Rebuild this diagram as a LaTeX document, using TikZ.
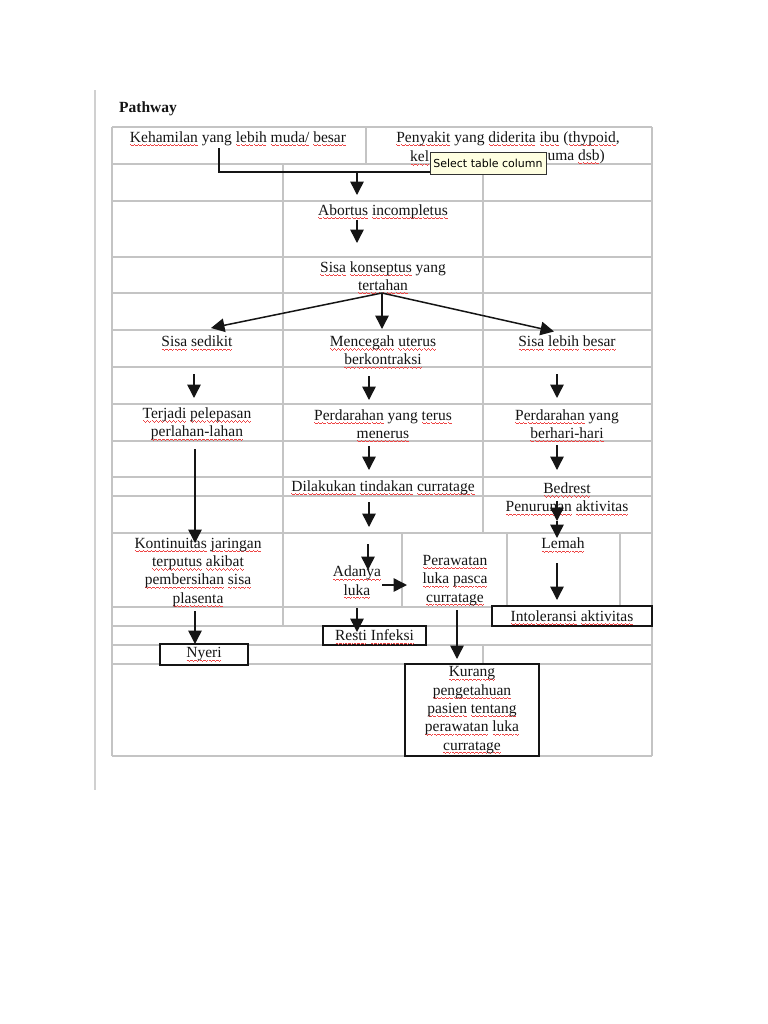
\documentclass[tikz,border=0pt]{standalone}
\usepackage{fontspec}
\setmainfont{Liberation Serif}
\newfontfamily\tipfont{DejaVu Sans}
\usetikzlibrary{arrows.meta}
\definecolor{gridgray}{HTML}{C4C4C4}
\definecolor{pagegray}{HTML}{D0D0D0}
\definecolor{ink}{HTML}{151515}
\definecolor{wavered}{HTML}{EE4444}
\definecolor{tipfill}{HTML}{FFFFE1}
\newsavebox\sqbox
\newcommand\waveunit{\rule[-2.4bp]{1bp}{0.6bp}\rule[-3.0bp]{1bp}{0.6bp}\rule[-3.6bp]{1bp}{0.6bp}\rule[-3.0bp]{1bp}{0.6bp}}
\newcommand\sq[1]{\sbox\sqbox{#1}\rlap{\raisebox{0pt}[0pt][0pt]{\color{wavered}\hbox to \wd\sqbox{\xleaders\hbox{\waveunit}\hfill}}}\usebox\sqbox}
\newcommand\cellfont{\fontsize{15.5bp}{18.3bp}\selectfont}
\begin{document}
\begin{tikzpicture}[x=1bp,y=-1bp,
  grid/.style={draw=gridgray,line width=1.2bp},
  pageline/.style={draw=pagegray,line width=1.4bp},
  txt/.style={font=\cellfont,align=center,inner sep=0pt,text=ink},
  boxnode/.style={draw=ink,line width=1.3bp,fill=white,font=\cellfont,align=center,inner sep=0pt,text=ink},
  conn/.style={draw=ink,line width=1.5bp},
  arr/.style={draw=ink,line width=1.5bp,-{Triangle[length=13.5bp,width=13.5bp]}},
  tip/.style={draw=black!80,line width=0.9bp,fill=tipfill,font=\tipfont\fontsize{11bp}{13bp}\selectfont,inner sep=0pt,minimum width=116bp,minimum height=22bp}]
\useasboundingbox (0,0) rectangle (768,1024);
\fill[white] (0,0) rectangle (768,1024);
% page margin line
\draw[pageline] (95,90) -- (95,790);
% table grid
\foreach \yy in {127,164,201,257,293,330,367,404,441,477,496,533,607,626,645,664,756}
  \draw[grid] (112,\yy) -- (652,\yy);
\draw[grid] (112,127) -- (112,756);
\draw[grid] (652,127) -- (652,756);
\draw[grid] (366,127) -- (366,164);
\draw[grid] (283,164) -- (283,626);
\draw[grid] (483,164) -- (483,533);
\draw[grid] (483,645) -- (483,664);
\draw[grid] (402,533) -- (402,607);
\draw[grid] (507,533) -- (507,607);
\draw[grid] (620,533) -- (620,607);
% title
\node[txt,font=\cellfont\bfseries,anchor=west] (title) at (119,108.4) {Pathway};
% cell texts
\node[txt] (kehamilan) at (238,138.4) {\sq{Kehamilan} yang \sq{lebih} \sq{muda/} \sq{besar}};
\node[txt] (penyakit) at (508,138.4) {\sq{Penyakit} yang \sq{diderita} \sq{ibu} (\sq{thypoid},};
\node[txt,anchor=west] (penyakitA) at (410,156.4) {\sq{kel}};
\node[txt,anchor=east] (penyakitB) at (605,156.4) {uma \sq{dsb})};
\node[txt] (abortus) at (383,211.4) {\sq{Abortus} \sq{incompletus}};
\node[txt] (sisakons) at (383,276) {\sq{Sisa} \sq{konseptus} yang\\ \sq{tertahan}};
\node[txt] (sedikit) at (197,341.4) {\sq{Sisa} \sq{sedikit}};
\node[txt] (mencegah) at (383,350.4) {\sq{Mencegah} \sq{uterus}\\ \sq{berkontraksi}};
\node[txt] (besar) at (567,341.4) {\sq{Sisa} \sq{lebih} \sq{besar}};
\node[txt] (terjadi) at (197,424) {\sq{Terjadi} \sq{pelepasan}\\ \sq{perlahan-lahan}};
\node[txt] (perdterus) at (383,424) {\sq{Perdarahan} yang \sq{terus}\\ \sq{menerus}};
\node[txt] (perdhari) at (567,424) {\sq{Perdarahan} yang\\ \sq{berhari-hari}};
\node[txt] (dilakukan) at (383,487.4) {\sq{Dilakukan} \sq{tindakan} \sq{curratage}};
\node[txt] (bedrest) at (567,497.4) {\sq{Bedrest}\\ \sq{Penurunan} \sq{aktivitas}};
\node[txt] (kontinuitas) at (198,572.2) {\sq{Kontinuitas} \sq{jaringan}\\ \sq{terputus} \sq{akibat}\\ \sq{pembersihan} \sq{sisa}\\ \sq{plasenta}};
\node[txt] (adanya) at (357,580.6) {\sq{Adanya}\\ \sq{luka}};
\node[txt] (perawatan) at (455,580.3) {\sq{Perawatan}\\ \sq{luka} \sq{pasca}\\ \sq{curratage}};
\node[txt] (lemah) at (563,543.4) {\sq{Lemah}};
% boxed outcomes
\node[boxnode,minimum width=160bp,minimum height=20bp] (intoleransi) at (572,616) {\sq{Intoleransi} \sq{aktivitas}};
\node[boxnode,minimum width=103bp,minimum height=19bp] (resti) at (374.5,635.5) {\sq{Resti} \sq{Infeksi}};
\node[boxnode,minimum width=88bp,minimum height=21bp] (nyeri) at (204,654.5) {\sq{Nyeri}};
\node[boxnode,minimum width=134bp,minimum height=92bp] (kurang) at (472,710) {\sq{Kurang}\\ \sq{pengetahuan}\\ \sq{pasien} \sq{tentang}\\ \sq{perawatan} \sq{luka}\\ \sq{curratage}};
% connector end points
\coordinate (k0) at (219,148);
\coordinate (k1) at (219,172);
\coordinate (k2) at (470,172);
\coordinate (m1) at (357,172);
\coordinate (m2) at (357,195);
\coordinate (ab1) at (357,220);
\coordinate (ab2) at (357,243);
\coordinate (sk) at (382,293);
\coordinate (skl) at (211,328);
\coordinate (skm) at (382,329);
\coordinate (skr) at (554,331.5);
\coordinate (l1a) at (194,374);
\coordinate (l1b) at (194,398);
\coordinate (c1a) at (369,376);
\coordinate (c1b) at (369,400);
\coordinate (r1a) at (557,374);
\coordinate (r1b) at (557,398);
\coordinate (l2a) at (195,449);
\coordinate (l2b) at (195,543);
\coordinate (c2a) at (369,446);
\coordinate (c2b) at (369,470);
\coordinate (r2a) at (557,445);
\coordinate (r2b) at (557,470);
\coordinate (c3a) at (369,502);
\coordinate (c3b) at (369,527);
\coordinate (r3a) at (557,501);
\coordinate (r3b) at (557,521);
\coordinate (r3c) at (557,538);
\coordinate (c4a) at (368,544);
\coordinate (c4b) at (368,570);
\coordinate (h1) at (382,585);
\coordinate (h2) at (407,585);
\coordinate (r4a) at (557,563);
\coordinate (r4b) at (557,600);
\coordinate (l5a) at (195,611);
\coordinate (l5b) at (195,644);
\coordinate (c5a) at (357,608);
\coordinate (c5b) at (357,632);
\coordinate (p5a) at (457,610);
\coordinate (p5b) at (457,659);
% connectors
\draw[conn] (k0) -- (k1) -- (k2);
\draw[arr] (m1) -- (m2);
\draw[arr] (ab1) -- (ab2);
\draw[arr] (sk) -- (skl);
\draw[arr] (sk) -- (skm);
\draw[arr] (sk) -- (skr);
\draw[arr] (l1a) -- (l1b);
\draw[arr] (c1a) -- (c1b);
\draw[arr] (r1a) -- (r1b);
\draw[arr] (l2a) -- (l2b);
\draw[arr] (c2a) -- (c2b);
\draw[arr] (r2a) -- (r2b);
\draw[arr] (c3a) -- (c3b);
\draw[arr] (r3a) -- (r3b);
\draw[arr] (r3b) -- (r3c);
\draw[arr] (c4a) -- (c4b);
\draw[arr] (h1) -- (h2);
\draw[arr] (r4a) -- (r4b);
\draw[arr] (l5a) -- (l5b);
\draw[arr] (c5a) -- (c5b);
\draw[arr] (p5a) -- (p5b);
% tooltip
\node[tip] (tooltip) at (488,163) {Select table column};
\end{tikzpicture}
\end{document}
